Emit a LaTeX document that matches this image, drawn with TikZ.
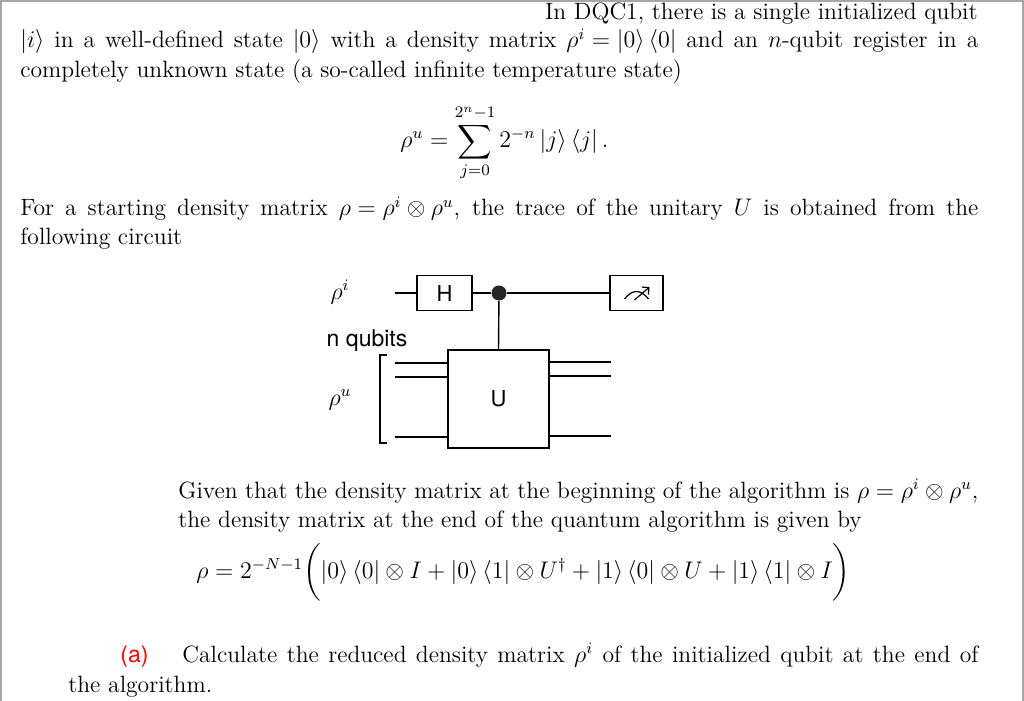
\documentclass[tikz,border=0pt]{standalone}
\usepackage{amsmath}
\usepackage{fontspec}
\newfontfamily\hel{TeX Gyre Heros}
\usetikzlibrary{calc,arrows.meta}
\thickmuskip=5mu
\medmuskip=4mu
\begin{document}
\begin{tikzpicture}[x=0.5pt,y=-0.5pt,
  txt/.style={anchor=base west,inner sep=0pt,font=\fontsize{11.8}{14}\selectfont},
  gate/.style={draw,line width=0.7pt,inner sep=0pt},
  wire/.style={line width=0.7pt},
  lab/.style={inner sep=0pt,font=\fontsize{11.5}{13}\selectfont}]
\useasboundingbox (0,0) rectangle (1024,701);
\draw[gray!70,line width=1.2pt] (1,701) -- (1,1) -- (1023,1) -- (1023,701);
% text
\node[txt,anchor=base east] (l1) at (978,20) {In DQC1, there is a single initialized qubit};
\node[txt] (l2) at (20,48) {\hbox to 479pt{$|i\rangle$ in a well-defined state $|0\rangle$ with a density matrix $\rho^i=|0\rangle\,\langle 0|$ and an $n$-qubit register in a}};
\node[txt] (l3) at (20,78) {completely unknown state (a so-called infinite temperature state)};
\node[txt] (e1) at (400,148) {$\displaystyle \rho^u=\sum_{j=0}^{2^n-1}2^{-n}\,|j\rangle\,\langle j|\,.$};
\node[txt] (l4) at (20,216) {\hbox to 479pt{For a starting density matrix $\rho=\rho^i\otimes\rho^u$, the trace of the unitary $U$ is obtained from the}};
\node[txt] (l5) at (20,245) {following circuit};
\node[txt] (l6) at (178,498) {\hbox to 400pt{Given that the density matrix at the beginning of the algorithm is $\rho=\rho^i\otimes\rho^u$,}};
\node[txt] (l7) at (178,527) {the density matrix at the end of the quantum algorithm is given by};
\node[txt] (e2) at (196,578) {$\rho=2^{-N-1}\biggl(|0\rangle\,\langle 0|\otimes I+|0\rangle\,\langle 1|\otimes U^\dagger+|1\rangle\,\langle 0|\otimes U+|1\rangle\,\langle 1|\otimes I\biggr)$};
\node[txt,text=red,font=\hel\fontsize{11.5}{14}\selectfont] (a) at (120,662) {(a)};
\node[txt] (l8) at (182,662) {\hbox to 398pt{Calculate the reduced density matrix $\rho^i$ of the initialized qubit at the end of}};
\node[txt] (l9) at (68,692) {the algorithm.};
% circuit
\node[lab] (ri) at (340,292) {$\rho^i$};
\coordinate (w0) at (395,293);
\node[gate,minimum width=27.5pt,minimum height=17.5pt,font=\hel\fontsize{11}{12}\selectfont] (H) at (444.5,293) {H};
\node[circle,fill=black!85,inner sep=0pt,minimum size=7.5pt] (c) at (499,293) {};
\node[gate,minimum width=26.5pt,minimum height=17.5pt] (M) at (636.5,293) {};
\draw[wire] (w0) -- (H.west);
\draw[wire] (H.east) -- (c) -- (M.west);
\draw[line width=0.6pt] ($(M.center)+(-12,6)$) .. controls ($(M.center)+(-4,-4)$) and ($(M.center)+(4,-4)$) .. ($(M.center)+(12,6)$);
\draw[line width=0.6pt,-{Straight Barb[length=2.5pt]}] ($(M.center)+(-2,7)$) -- ($(M.center)+(13,-6)$);
\node[gate,minimum width=50.5pt,minimum height=49pt,font=\hel\fontsize{11}{12}\selectfont] (U) at (498.5,399) {U};
\draw[wire] (c) -- (U.north);
\node[lab,font=\hel\fontsize{11.5}{13}\selectfont] (nq) at (367,341) {n qubits};
\node[lab] (ru) at (340,400) {$\rho^u$};
\foreach \y/\n in {363/a,377/b,437/c}{
  \coordinate (in\n) at (395,\y);
  \coordinate (out\n) at (611,\y-1);
  \draw[wire] (in\n) -- (in\n-|U.west);
  \draw[wire] (out\n-|U.east) -- (out\n);
}
\coordinate (b1) at (387,355);
\coordinate (b2) at (387,443);
\draw[wire] (b1) -- ++(-7,0) |- (b2);
\end{tikzpicture}
\end{document}
